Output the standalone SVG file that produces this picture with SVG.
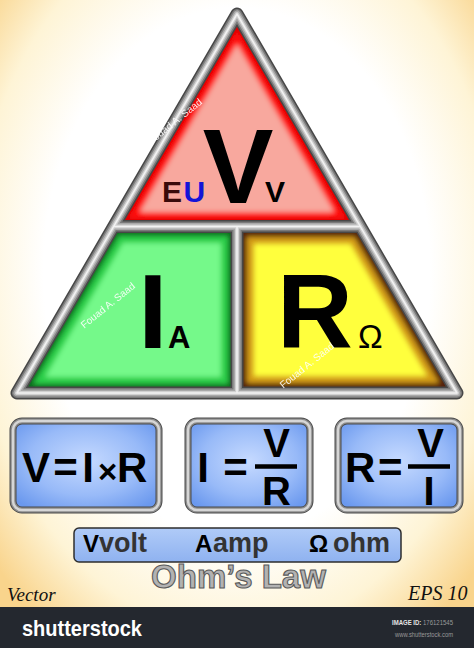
<svg xmlns="http://www.w3.org/2000/svg" xmlns:xlink="http://www.w3.org/1999/xlink" width="474" height="648" viewBox="0 0 474 648">
<style>
  .b { font-family: "Liberation Sans", Arial, sans-serif; font-weight: bold; }
  .r { font-family: "Liberation Sans", Arial, sans-serif; }
  .it { font-family: "Liberation Serif", "Times New Roman", serif; font-style: italic; }
  .t1 { fill: none; stroke: #474747; stroke-width: 13; stroke-linejoin: round; }
  .t2 { fill: none; stroke: #7a7a7a; stroke-width: 10; stroke-linejoin: round; }
  .t3 { fill: none; stroke: #a8a8a8; stroke-width: 7; stroke-linejoin: round; }
  .t4 { fill: none; stroke: #d0d0d0; stroke-width: 4; stroke-linejoin: round; }
  .t5 { fill: none; stroke: #f2f2f2; stroke-width: 1.5; stroke-linejoin: round; }
  .f1 { fill: none; stroke: #4a4a4a; stroke-width: 7; }
  .f2 { fill: none; stroke: #8c8c8c; stroke-width: 5; }
  .f3 { fill: none; stroke: #d6d6d6; stroke-width: 2.5; }
  .wm { font-family: "Liberation Sans", Arial, sans-serif; font-size: 10px; fill: #ffffff; opacity: 0.9; }
</style>
<defs>
  <radialGradient id="bg" cx="50%" cy="42%" r="68%">
    <stop offset="0" stop-color="#ffffff"/>
    <stop offset="0.6" stop-color="#ffffff"/>
    <stop offset="0.82" stop-color="#fef4d6"/>
    <stop offset="1" stop-color="#f9d48c"/>
  </radialGradient>
  <radialGradient id="blue" cx="50%" cy="45%" r="65%">
    <stop offset="0" stop-color="#c6daff"/>
    <stop offset="0.6" stop-color="#98baf8"/>
    <stop offset="1" stop-color="#6a98ee"/>
  </radialGradient>
  <linearGradient id="lg" x1="0" y1="0" x2="0" y2="1">
    <stop offset="0" stop-color="#b0cbf8"/>
    <stop offset="1" stop-color="#8fb2f0"/>
  </linearGradient>
  <filter id="bl" x="-20%" y="-20%" width="140%" height="140%">
    <feGaussianBlur stdDeviation="2.6"/>
  </filter>
  <clipPath id="cr"><polygon points="237,24 122.4,222 351.6,222"/></clipPath>
  <clipPath id="cg"><polygon points="116.6,232 232,232 232,388 26.1,388"/></clipPath>
  <clipPath id="cy"><polygon points="242,232 357.4,232 447.9,388 242,388"/></clipPath>
  <path id="frame" d="M237,14 L17,393 L457,393 Z M113,226.5 H361 M237,226.5 V393"/>
  <rect id="bx1" x="13" y="421" width="146" height="89" rx="9"/>
  <rect id="bx2" x="188" y="421" width="122" height="89" rx="9"/>
  <rect id="bx3" x="338" y="421" width="122" height="89" rx="9"/>
</defs>

<rect id="background" x="0" y="0" width="474" height="648" fill="url(#bg)"/>

<g id="section-V">
  <g clip-path="url(#cr)">
    <g filter="url(#bl)">
      <polygon points="237,24 122.4,222 351.6,222" fill="#f8a89e" stroke="#ff0b0b" stroke-width="20"/>
      <polygon points="237,24 122.4,222 351.6,222" fill="none" stroke="#d80000" stroke-width="6"/>
    </g>
  </g>
  <text class="b" x="238" y="203" font-size="106" text-anchor="middle" fill="#000">V</text>
  <text class="b" x="162" y="202" font-size="30" fill="#3a0a0a">E</text>
  <text class="b" x="183.5" y="202" font-size="30" fill="#1414d8">U</text>
  <text class="b" x="265" y="202" font-size="30" fill="#000">V</text>
</g>

<g id="section-I">
  <g clip-path="url(#cg)">
    <g filter="url(#bl)">
      <polygon points="116.6,232 232,232 232,388 26.1,388" fill="#74f98a" stroke="#2ccf48" stroke-width="22"/>
      <polygon points="116.6,232 232,232 232,388 26.1,388" fill="none" stroke="#0a6a1e" stroke-width="8"/>
    </g>
  </g>
  <text class="b" x="138.3" y="348" font-size="105" fill="#000">I</text>
  <text class="b" x="168" y="348" font-size="31" fill="#000">A</text>
</g>

<g id="section-R">
  <g clip-path="url(#cy)">
    <g filter="url(#bl)">
      <polygon points="242,232 357.4,232 447.9,388 242,388" fill="#ffff3e" stroke="#d49c18" stroke-width="24"/>
      <polygon points="242,232 357.4,232 447.9,388 242,388" fill="none" stroke="#54230a" stroke-width="10"/>
    </g>
  </g>
  <text class="b" x="277" y="348" font-size="105" fill="#000">R</text>
  <text class="r" x="358" y="348" font-size="33" fill="#000">Ω</text>
</g>

<g id="triangle-frame">
  <use xlink:href="#frame" class="t1"/>
  <use xlink:href="#frame" class="t2"/>
  <use xlink:href="#frame" class="t3"/>
  <use xlink:href="#frame" class="t4"/>
  <use xlink:href="#frame" class="t5"/>
</g>

<g id="credits">
  <text class="wm" transform="translate(177,124) rotate(-39)" text-anchor="middle">Fouad A. Saad</text>
  <text class="wm" transform="translate(110,308) rotate(-39)" text-anchor="middle">Fouad A. Saad</text>
  <text class="wm" transform="translate(309,368) rotate(-39)" text-anchor="middle">Fouad A. Saad</text>
</g>

<g id="box-VIR">
  <use xlink:href="#bx1" fill="url(#blue)"/>
  <use xlink:href="#bx1" class="f1"/>
  <use xlink:href="#bx1" class="f2"/>
  <use xlink:href="#bx1" class="f3"/>
  <text class="b" x="22" y="482" font-size="42">V</text>
  <text class="b" x="53.3" y="482" font-size="42">=</text>
  <text class="b" x="82.3" y="482" font-size="42">I</text>
  <text class="b" x="98" y="482.5" font-size="33">×</text>
  <text class="b" x="117" y="482" font-size="42">R</text>
</g>

<g id="box-I">
  <use xlink:href="#bx2" fill="url(#blue)"/>
  <use xlink:href="#bx2" class="f1"/>
  <use xlink:href="#bx2" class="f2"/>
  <use xlink:href="#bx2" class="f3"/>
  <text class="b" x="197.3" y="482" font-size="42">I</text>
  <text class="b" x="223.3" y="482" font-size="42">=</text>
  <line x1="255" y1="466.5" x2="297" y2="466.5" stroke="#000" stroke-width="4.5"/>
  <text class="b" x="276.5" y="457" font-size="40" text-anchor="middle">V</text>
  <text class="b" x="276.5" y="505" font-size="40" text-anchor="middle">R</text>
</g>

<g id="box-R">
  <use xlink:href="#bx3" fill="url(#blue)"/>
  <use xlink:href="#bx3" class="f1"/>
  <use xlink:href="#bx3" class="f2"/>
  <use xlink:href="#bx3" class="f3"/>
  <text class="b" x="345" y="482" font-size="42">R</text>
  <text class="b" x="378" y="482" font-size="42">=</text>
  <line x1="408" y1="466.5" x2="450" y2="466.5" stroke="#000" stroke-width="4.5"/>
  <text class="b" x="430.5" y="457" font-size="40" text-anchor="middle">V</text>
  <text class="b" x="429" y="505" font-size="40" text-anchor="middle">I</text>
</g>

<g id="legend">
  <rect x="74" y="528" width="327" height="34" rx="5" fill="url(#lg)" stroke="#2e2e2e" stroke-width="1.5"/>
  <text class="b" x="83" y="552" font-size="24" fill="#000">V</text>
  <text class="b" x="99" y="552" font-size="27" fill="#333">volt</text>
  <text class="b" x="195" y="552" font-size="24" fill="#000">A</text>
  <text class="b" x="213" y="552" font-size="27" fill="#333">amp</text>
  <text class="b" x="309" y="552" font-size="24" fill="#000">Ω</text>
  <text class="b" x="333" y="552" font-size="27" fill="#333">ohm</text>
</g>

<g id="title">
  <text class="b" x="238.5" y="588" font-size="33" text-anchor="middle" fill="#b2b2b2" stroke="#5a5a5a" stroke-width="1.1">Ohm’s Law</text>
  <text class="it" x="7" y="601" font-size="19" fill="#111">Vector</text>
  <text class="it" x="408" y="600" font-size="20" fill="#111">EPS 10</text>
</g>

<g id="footer">
  <rect x="0" y="607" width="474" height="41" fill="#24282f"/>
  <text class="b" x="22" y="636" font-size="22" fill="#ffffff" textLength="120" lengthAdjust="spacingAndGlyphs">shutterstock</text>
  <text class="r" x="392" y="625" font-size="6.5" fill="#9a9a9a" textLength="61" lengthAdjust="spacingAndGlyphs"><tspan class="b" fill="#e6e6e6">IMAGE ID:</tspan> 176121545</text>
  <text class="r" x="395" y="637" font-size="6.5" fill="#9a9a9a" textLength="58" lengthAdjust="spacingAndGlyphs">www.shutterstock.com</text>
</g>
</svg>
